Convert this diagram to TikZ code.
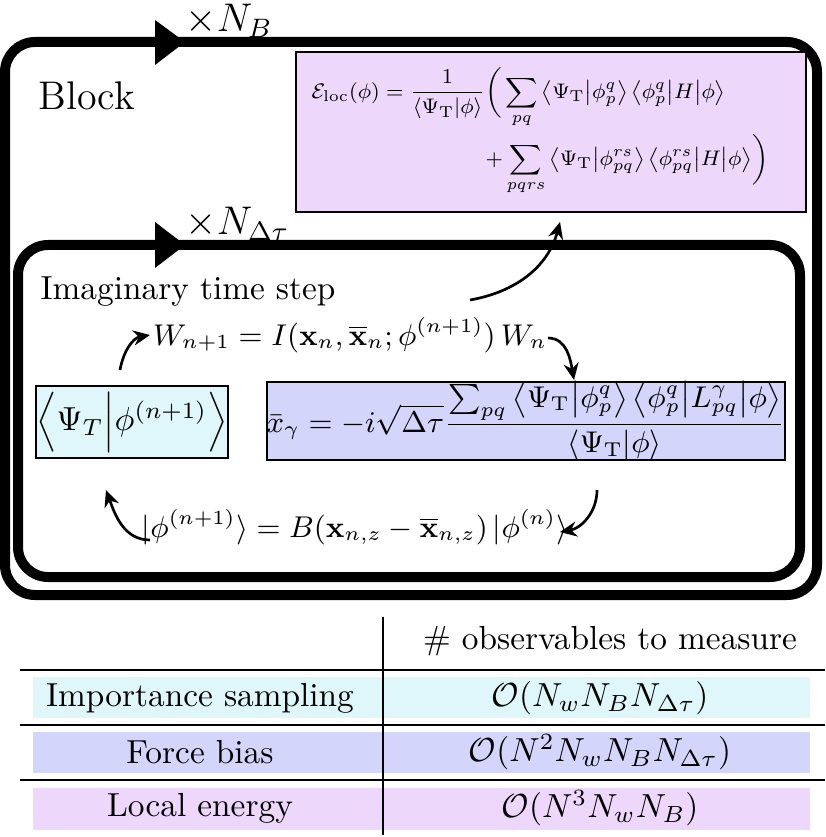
\documentclass[tikz,border=0pt]{standalone}
\usepackage{amsmath,amssymb,graphicx}
\usetikzlibrary{arrows.meta}
\definecolor{cy}{HTML}{DFF7FB}
\definecolor{bl}{HTML}{D3D5FA}
\definecolor{pu}{HTML}{EDD8FC}
\begin{document}
\begin{tikzpicture}[x=0.3pt,y=-0.3pt,
  loop/.style={line width=3pt,rounded corners=9pt},
  eqbox/.style={draw,line width=0.6pt,inner sep=0pt},
  arr/.style={line width=0.8pt,-{Stealth[length=5pt,width=4.5pt]}},
  lbl/.style={anchor=base west,inner sep=0pt}]
\useasboundingbox (0,0) rectangle (825,837);
% outer loop
\draw[loop] (5,42) rectangle (817,595);
\fill (155,20) -- (185,42) -- (155,65) -- cycle;
\node[lbl,font=\large] (nb) at (185,32) {$\times N_B$};
\node[lbl,font=\large] (blk) at (38,110) {Block};
% local energy box
\draw[eqbox,fill=pu] (296,52) rectangle (806,212);
\node[anchor=west,inner sep=0pt,font=\footnotesize] (el1) at (311,98) {\scalebox{0.79}{$\mathcal{E}_{\mathrm{loc}}(\phi)=\dfrac{1}{\langle\Psi_{\mathrm{T}}|\phi\rangle}\bigg(\displaystyle\sum_{pq}\big\langle\Psi_{\mathrm{T}}\big|\phi_p^q\big\rangle\,\big\langle\phi_p^q\big|H\big|\phi\big\rangle$}};
\node[anchor=west,inner sep=0pt,font=\footnotesize] (el2) at (485,165) {\scalebox{0.79}{$+\displaystyle\sum_{pqrs}\big\langle\Psi_{\mathrm{T}}\big|\phi_{pq}^{rs}\big\rangle\,\big\langle\phi_{pq}^{rs}\big|H\big|\phi\big\rangle\bigg)$}};
\coordinate (elb) at (560,222);
% inner loop
\draw[loop] (18,245) rectangle (800,577);
\fill (155,222) -- (185,245) -- (155,268) -- cycle;
\node[lbl,font=\large] (ndt) at (185,235) {$\times N_{\Delta\tau}$};
\node[lbl] (its) at (40,300) {Imaginary time step};
\node[font=\small] (w) at (350,335) {$W_{n+1}=I(\mathbf{x}_n,\overline{\mathbf{x}}_n;\phi^{(n+1)})\,W_n$};
\node[eqbox,fill=cy,minimum width=174*0.3pt,minimum height=71*0.3pt] (is) at (132,422) {$\Big\langle\Psi_T\Big|\phi^{(n+1)}\Big\rangle$};
\node[eqbox,fill=bl,minimum width=486*0.3pt,minimum height=73*0.3pt,font=\small] (fb) at (526,421) {$\bar{x}_\gamma=-i\sqrt{\Delta\tau}\dfrac{\sum_{pq}\big\langle\Psi_{\mathrm{T}}\big|\phi_p^q\big\rangle\,\big\langle\phi_p^q\big|L_{pq}^{\gamma}\big|\phi\big\rangle}{\langle\Psi_{\mathrm{T}}|\phi\rangle}$};
\node[font=\small] (b) at (355,527) {$|\phi^{(n+1)}\rangle=B(\mathbf{x}_{n,z}-\overline{\mathbf{x}}_{n,z})\,|\phi^{(n)}\rangle$};
\coordinate (a1s) at (120,370); \coordinate (a1e) at (150,335);
\coordinate (a2s) at (548,338); \coordinate (a2e) at (574,380);
\coordinate (a3s) at (597,490); \coordinate (a3e) at (560,532);
\coordinate (a4s) at (150,540); \coordinate (a4e) at (106,490);
\coordinate (a5s) at (470,300);
\draw[arr] (a1s) to[out=80,in=190] (a1e);
\draw[arr] (a2s) to[out=0,in=100] (a2e);
\draw[arr] (a3s) to[out=-90,in=10] (a3e);
\draw[arr] (a4s) to[out=180,in=-70] (a4e);
\draw[arr] (a5s) to[out=10,in=-105] (elb);
% table
\fill[cy] (33,677) rectangle (810,718);
\fill[bl] (33,732) rectangle (810,773);
\fill[pu] (33,788) rectangle (810,830);
\draw[line width=0.4pt] (383,617) -- (383,835);
\draw[line width=0.5pt] (20,670) -- (825,670) (20,725) -- (825,725) (20,780) -- (825,780);
\node (h) at (610,641) {\# observables to measure};
\node (r1a) at (200,698) {Importance sampling};
\node (r1b) at (600,698) {$\mathcal{O}(N_wN_BN_{\Delta\tau})$};
\node (r2a) at (200,752) {Force bias};
\node (r2b) at (600,752) {$\mathcal{O}(N^2N_wN_BN_{\Delta\tau})$};
\node (r3a) at (200,808) {Local energy};
\node (r3b) at (600,808) {$\mathcal{O}(N^3N_wN_B)$};
\end{tikzpicture}
\end{document}
